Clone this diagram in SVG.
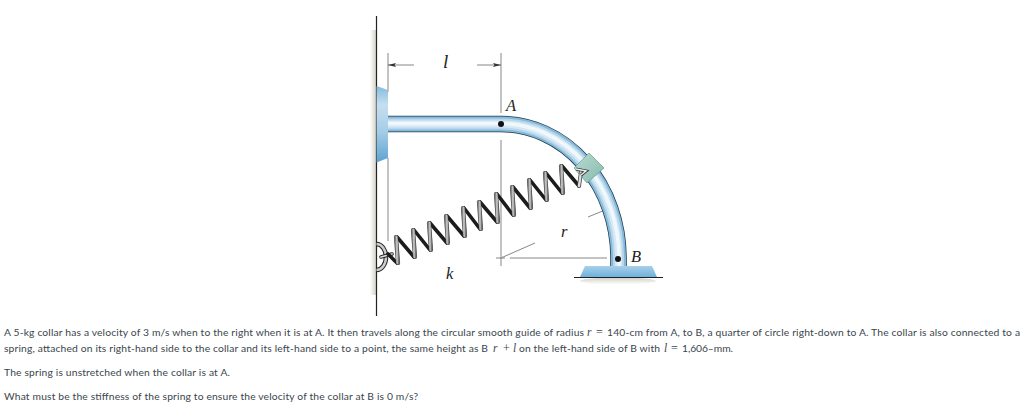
<svg xmlns="http://www.w3.org/2000/svg" width="1024" height="415" viewBox="0 0 1024 415">
<style>
.t{font-family:Lato,"Open Sans",sans-serif;font-size:10.3px;fill:#3a454d}
.m{font-family:"Liberation Serif",serif;font-style:italic;font-size:11.5px;fill:#3a454d}
.q{font-family:"Liberation Serif",serif;font-size:12px;fill:#3a454d}
.lab{font-family:"Liberation Serif",serif;font-style:italic;font-size:16.5px;fill:#222}
.d{stroke:#555;stroke-width:.7;fill:none}
.coil{stroke:url(#coil);stroke-width:3.2;stroke-linecap:round;fill:none}
.edge{stroke:#444;stroke-width:4.2;stroke-linecap:round;fill:none}
.back{stroke:#1c1c1c;stroke-width:3.6;stroke-linecap:round;fill:none}
.tube{fill:none}
</style>
<defs>
<linearGradient id="wallS" x1="0" x2="1" y1="0" y2="0"><stop offset="0" stop-color="#fff"/><stop offset="1" stop-color="#d4d3c8"/></linearGradient>
<linearGradient id="mount" x1="0" x2="0" y1="0" y2="1"><stop offset="0" stop-color="#86bbdc"/><stop offset=".25" stop-color="#c5dff0"/><stop offset=".6" stop-color="#a5cce6"/><stop offset="1" stop-color="#5da3d2"/></linearGradient>
<linearGradient id="base" x1="0" x2="0" y1="0" y2="1"><stop offset="0" stop-color="#a9d0ea"/><stop offset="1" stop-color="#6fb0dc"/></linearGradient>
<linearGradient id="shadow" x1="0" x2="0" y1="0" y2="1"><stop offset="0" stop-color="#bdbcae"/><stop offset="1" stop-color="#fff"/></linearGradient>
<linearGradient id="coil" x1="0" x2="1" y1="0" y2="0"><stop offset="0" stop-color="#888"/><stop offset=".5" stop-color="#f2f2f2"/><stop offset="1" stop-color="#777"/></linearGradient>
<linearGradient id="collar" x1="0" x2="1" y1="0" y2="1"><stop offset="0" stop-color="#b9dcd2"/><stop offset="1" stop-color="#86b9ad"/></linearGradient>
<marker id="ah" viewBox="0 0 8 4" refX="8" refY="2" markerWidth="8" markerHeight="4" markerUnits="userSpaceOnUse" orient="auto"><path d="M0 0L8 2L0 4L1.500 2Z" fill="#333"/></marker>
</defs>

<g id="wall">
<rect x="370" y="30" width="6" height="265" fill="url(#wallS)"/>
<path d="M376.500 16V316" stroke="#222" stroke-width="1.200"/>
</g>

<g id="connectors">
<path class="d" d="M388 53V92M388 158V241M501 53V113M501 140V266"/>
<path class="d" d="M414 65H388" marker-end="url(#ah)"/>
<path class="d" d="M477 65H501" marker-end="url(#ah)"/>
<path class="d" d="M496 258H505M510 258H607"/>
<path class="d" d="M535 243L502 257.500"/>
<path class="d" d="M588 217L610 208" marker-end="url(#ah)"/>
<path class="d" d="M610 201L613 214"/>
</g>

<g id="mount-plate">
<path d="M376.500 86L388 90V158L376.500 162.500Z" fill="url(#mount)"/>
</g>

<g id="guide">
<path class="tube" d="M388 124H501A117.500 134 0 0 1 618.500 258V266" stroke="#1d3b52" stroke-width="16.500"/>
<path class="tube" d="M388 124H501A117.500 134 0 0 1 618.500 258V266" stroke="#86b8d8" stroke-width="15"/>
<path class="tube" d="M388 124H501A117.500 134 0 0 1 618.500 258V266" stroke="#b6d7ec" stroke-width="11"/>
<path class="tube" d="M388 124H501A117.500 134 0 0 1 618.500 258V266" stroke="#d6e9f5" stroke-width="7"/>
<path class="tube" d="M388 123.500H501A118 134.500 0 0 1 619 258V266" stroke="#f1f8fc" stroke-width="3.500"/>
</g>

<g id="base-plate">
<ellipse cx="618" cy="281" rx="38" ry="3.500" fill="url(#shadow)" opacity=".7"/>
<path d="M585 266H652L657 277H580Z" fill="url(#base)"/>
<path d="M574 277.500H663" stroke="#222" stroke-width="1"/>
</g>

<g id="anchor">
<path d="M376.500 244A9.500 13 0 0 1 376.500 270" fill="none" stroke="#222" stroke-width="4.500"/>
<path d="M376.500 244A9.500 13 0 0 1 376.500 270" fill="none" stroke="#ccc" stroke-width="2.500"/>
<path d="M381 257L392 254" stroke="#222" stroke-width="3.500" stroke-linecap="round"/>
<path d="M381 257L392 254" stroke="#ddd" stroke-width="1.800" stroke-linecap="round"/>
</g>

<g id="spring">
<path class="back" d="M388 254L397 263M397 237L414 257M414 230L430 250M430 223L447 243M447 216L464 236M464 208L480 229M480 202L497 222M497 194L513 215M513 187L530 208M530 180L546 200M546 173L562 193M562 166L579 186"/>
<path class="edge" d="M396 237L398 263M413 230L415 257M429 223L431 250M446 216L448 243M463 208L465 236M479 202L481 229M496 194L498 222M512 187L514 215M529 180L531 208M545 173L547 200M561 166L563 193"/>
<path class="coil" d="M396 237L398 263"/>
<path class="coil" d="M413 230L415 257"/>
<path class="coil" d="M429 223L431 250"/>
<path class="coil" d="M446 216L448 243"/>
<path class="coil" d="M463 208L465 236"/>
<path class="coil" d="M479 202L481 229"/>
<path class="coil" d="M496 194L498 222"/>
<path class="coil" d="M512 187L514 215"/>
<path class="coil" d="M529 180L531 208"/>
<path class="coil" d="M545 173L547 200"/>
<path class="coil" d="M561 166L563 193"/>
</g>

<g id="collar-node">
<path d="M574 168L589 153L604 168L587 183Z" fill="url(#collar)" stroke="#5d8f85" stroke-width=".6"/>
<path d="M581 172L579 186" stroke="#444" stroke-width="4" stroke-linecap="round"/>
<path d="M581 172L579 186" stroke="#ddd" stroke-width="2.400" stroke-linecap="round"/>
<path d="M576 169L586 171L581 175" fill="none" stroke="#333" stroke-width="3"/>
<path d="M576 169L586 171L581 175" fill="none" stroke="#eee" stroke-width="1.500"/>
</g>

<g id="points">
<circle cx="501" cy="124" r="3" fill="#111"/>
<circle cx="618" cy="259" r="3" fill="#111"/>
</g>

<g id="labels">
<text class="lab" style="font-size:19px" x="443" y="68">l</text>
<text class="lab" x="506" y="111">A</text>
<text class="lab" x="631" y="262">B</text>
<text class="lab" x="561" y="237">r</text>
<text class="lab" x="446" y="279">k</text>
</g>

<g id="problem-text">
<text class="t" x="4" y="336" textLength="580">A 5-kg collar has a velocity of 3 m/s when to the right when it is at A. It then travels along the circular smooth guide of radius</text>
<text class="m" x="587" y="336">r</text>
<text class="q" x="596" y="336">=</text>
<text class="t" x="607" y="336" textLength="413">140-cm from A, to B, a quarter of circle right-down to A. The collar is also connected to a</text>
<text class="t" x="4" y="352" textLength="484">spring, attached on its right-hand side to the collar and its left-hand side to a point, the same height as B</text>
<text class="m" x="493" y="352">r</text>
<text class="q" x="503" y="352">+</text>
<text class="m" x="513" y="352">l</text>
<text class="t" x="519" y="352" textLength="141">on the left-hand side of B with</text>
<text class="m" x="664" y="352">l</text>
<text class="q" x="671" y="352">=</text>
<text class="t" x="682" y="352" textLength="51">1,606–mm.</text>
<text class="t" x="4" y="376" textLength="226">The spring is unstretched when the collar is at A.</text>
<text class="t" x="4" y="400" textLength="414">What must be the stiffness of the spring to ensure the velocity of the collar at B is 0 m/s?</text>
</g>
</svg>
